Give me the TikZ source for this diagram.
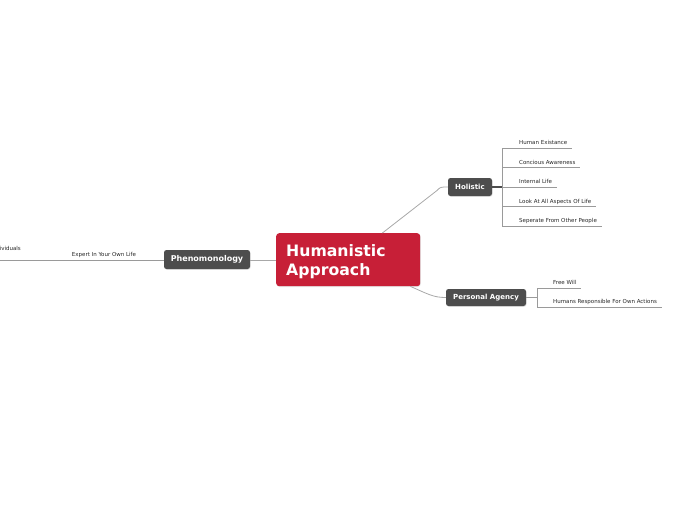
\documentclass[tikz,border=0pt]{standalone}
\usepackage{fontspec}
\setmainfont{DejaVu Sans}
\usetikzlibrary{calc,shadows}
\definecolor{cred}{HTML}{C71F37}
\definecolor{cdark}{HTML}{4D4D4D}
\definecolor{cline}{HTML}{A8A8A8}
\definecolor{csub}{HTML}{9A9A9A}
\tikzset{
  central/.style={fill=cred, rounded corners=3pt, anchor=north west, minimum width=144pt, minimum height=53pt, inner sep=0pt, drop shadow={opacity=0.2, shadow xshift=0.6pt, shadow yshift=-0.8pt}},
  centraltext/.style={text=white, font=\fontsize{15.7}{19}\selectfont\bfseries, align=left, text width=124pt, inner sep=0pt},
  topicbox/.style={fill=cdark, rounded corners=2.5pt, text=white, font=\fontsize{7}{8}\selectfont\bfseries, inner sep=0pt, drop shadow={opacity=0.2, shadow xshift=0.6pt, shadow yshift=-0.8pt}},
  conn/.style={draw=cline, line width=0.8pt},
  subline/.style={draw=csub, line width=0.6pt},
  subtext/.style={font=\fontsize{5.5}{6.6}\selectfont, text=black!85, inner xsep=0pt, inner ysep=1.2pt, anchor=south west},
}
\newcommand{\subt}[2]{\kern#1\strut #2\kern4.5pt}
\begin{document}
\begin{tikzpicture}[x=1pt, y=-1pt]
\useasboundingbox (0,0) rectangle (697,520);
\clip (0,0) rectangle (697,520);
% central
\node[central] (c) at (276,233) {};
\node[centraltext] (ct) at ($(c.center)+(0,2)$) {Humanistic\\Approach};
% main topics
\node[topicbox, minimum width=86pt, minimum height=19pt, font=\fontsize{8}{9}\selectfont\bfseries] (phen) at (207,259.5) {\raisebox{-0.8pt}{Phenomonology}};
\node[topicbox, minimum width=44pt, minimum height=18pt] (hol) at (470,187) {\raisebox{-0.5pt}{Holistic}};
\node[topicbox, minimum width=80pt, minimum height=17pt] (pa) at (486,297.5) {\raisebox{-0.5pt}{Personal Agency}};
% connectors from central
\draw[conn] (c.west |- 0,260) -- (phen.east |- 0,260);
\draw[conn] ($(c.north east)+(-38,0)$) -- (437,190.5) .. controls (440,187.5) .. (444,187) -- (hol.west);
\draw[conn] ($(c.south east)+(-10,0)$) .. controls (428,294) and (433,297.5) .. (pa.west);
% phenomonology branch
\coordinate (leftend) at (0,260);
\draw[subline] (phen.west |- 0,260) -- (leftend);
\node[subtext, anchor=south] (exp) at (104,259) {Expert In Your Own Life};
\node[subtext, anchor=east] (ind) at (21,248) {Individuals};
% holistic children
\node[subtext] (h1) at (502,148) {\subt{17pt}{Human Existance}};
\node[subtext] (h2) at (502,167.5) {\subt{17pt}{Concious Awareness}};
\node[subtext] (h3) at (502,187) {\subt{17pt}{Internal Life}};
\node[subtext] (h4) at (502,206.5) {\subt{17pt}{Look At All Aspects Of Life}};
\node[subtext] (h5) at (502,226) {\subt{17pt}{Seperate From Other People}};
\foreach \n in {h1,h2,h3,h4,h5} {\draw[subline] (\n.south west) -- (\n.south east);}
\draw[subline] (h1.south west) -- (h5.south west);
\draw[draw=cdark, line width=1.4pt] (hol.east) -- (hol.east -| h1.south west);
% personal agency children
\node[subtext] (p1) at (537,288) {\subt{16pt}{Free Will}};
\node[subtext] (p2) at (537,307) {\subt{16pt}{Humans Responsible For Own Actions}};
\foreach \n in {p1,p2} {\draw[subline] (\n.south west) -- (\n.south east);}
\draw[subline] (p1.south west) -- (p2.south west);
\draw[subline] (pa.east) -- (pa.east -| p1.south west);
\end{tikzpicture}
\end{document}
